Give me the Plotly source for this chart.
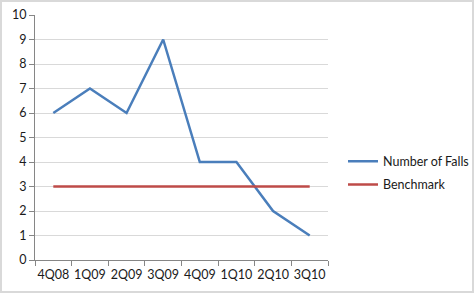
import plotly.graph_objects as go

quarters = ["4Q08", "1Q09", "2Q09", "3Q09", "4Q09", "1Q10", "2Q10", "3Q10"]
falls = [6, 7, 6, 9, 4, 4, 2, 1]
benchmark = [3, 3, 3, 3, 3, 3, 3, 3]
y_ticks = [0, 1, 2, 3, 4, 5, 6, 7, 8, 9, 10]

W, H = 474, 293
L, R, T, B = 35, 146, 15, 33
pw, ph = W - L - R, H - T - B

fig = go.Figure()
fig.add_trace(go.Scatter(x=quarters, y=falls, mode="lines", name="Number of Falls",
                         legendgroup="a", line=dict(color="#4a7ebb", width=2.5)))
fig.add_trace(go.Scatter(x=quarters, y=benchmark, mode="lines", name="Benchmark",
                         legendgroup="b", line=dict(color="#be4b48", width=2.5)))

fnt = dict(family="Lato, Open Sans, sans-serif", size=12.5, color="#1a1a1a")

fig.update_layout(
    width=W, height=H,
    margin=dict(l=L, r=R, t=T, b=B, autoexpand=False),
    paper_bgcolor="white", plot_bgcolor="white",
    font=fnt,
    showlegend=True,
    legend=dict(x=(343 - L) / pw, y=(260 - 173) / ph, xanchor="left", yanchor="middle",
                font=fnt, bgcolor="rgba(0,0,0,0)", itemwidth=30, tracegroupgap=4),
    xaxis=dict(type="category", tickson="boundaries", ticks="outside", ticklen=5,
               tickcolor="#868686", showline=True, linecolor="#868686", linewidth=1,
               showgrid=False, range=[-0.5, 7.5], tickfont=fnt, tickangle=0,
               ticklabelstandoff=3, automargin=False, fixedrange=True),
    yaxis=dict(range=[0, 10], tickvals=y_ticks, ticks="outside", ticklen=5,
               tickcolor="#868686", showline=True, linecolor="#868686", linewidth=1,
               showgrid=True, gridcolor="#d9d9d9", gridwidth=1, zeroline=False,
               tickfont=fnt, automargin=False, fixedrange=True),
    shapes=[dict(type="rect", xref="paper", yref="paper",
                 x0=(0 - L) / pw, x1=(W - L) / pw,
                 y0=(260 - H) / ph, y1=(260 - 0) / ph,
                 line=dict(color="#d9d9d9", width=4), fillcolor="rgba(0,0,0,0)", layer="below")],
)

fig.write_html("out.html")
